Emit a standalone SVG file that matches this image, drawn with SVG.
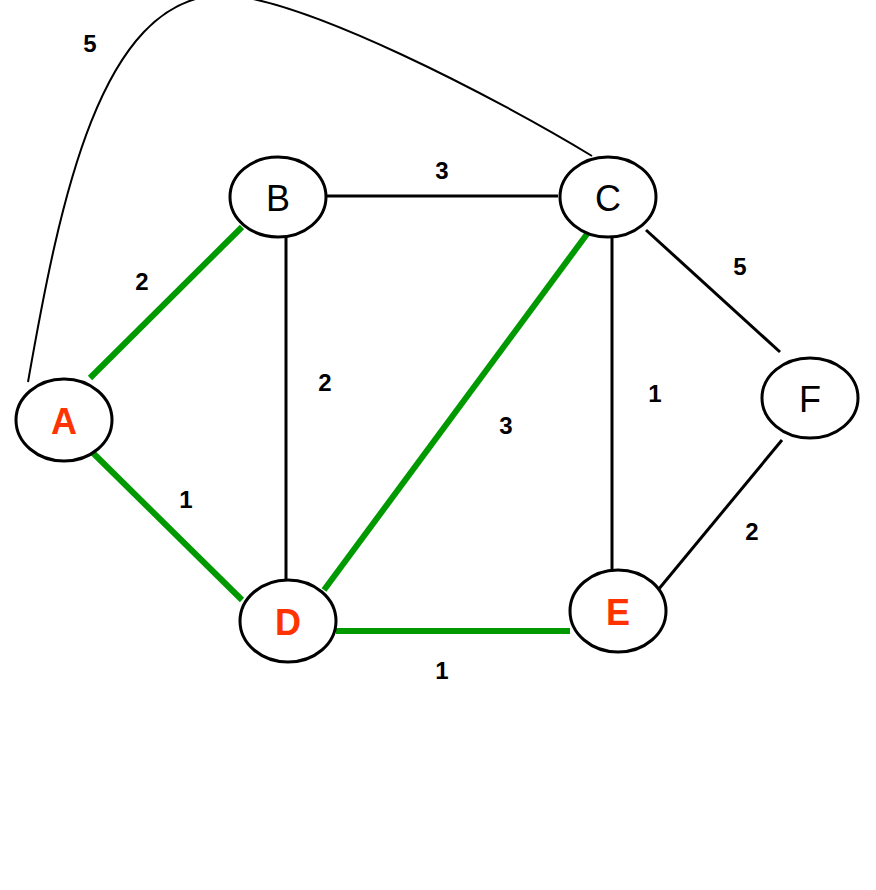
<svg xmlns="http://www.w3.org/2000/svg" width="876" height="890" viewBox="0 0 876 890">
<style>
.n{fill:#fff;stroke:#000;stroke-width:3}
.t{font-family:"Liberation Sans",Arial,sans-serif;font-size:36px;text-anchor:middle}
.r{fill:#ff3300;font-weight:bold}
.l{font-family:"Liberation Sans",Arial,sans-serif;font-size:24px;font-weight:bold;text-anchor:middle}
.k{stroke:#000;stroke-width:3;fill:none}
.g{stroke:#009900;stroke-width:6;fill:none}
</style>
<rect width="876" height="890" fill="#fff"/>
<g id="connectors">
<path class="k" d="M28,382 C60,200 100,0 220,-5 C300,-5 500,100 592,156" style="stroke-width:2"/>
<line class="g" x1="90" y1="378" x2="242" y2="227"/>
<line class="g" x1="92" y1="452" x2="242" y2="600"/>
<line class="k" x1="286" y1="237" x2="286" y2="580"/>
<line class="k" x1="326" y1="196" x2="558" y2="196"/>
<line class="g" x1="590" y1="230" x2="324" y2="590"/>
<line class="k" x1="612" y1="237" x2="612" y2="572"/>
<line class="k" x1="646" y1="230" x2="780" y2="352"/>
<line class="k" x1="782" y1="440" x2="658" y2="590"/>
<line class="g" x1="336" y1="631" x2="570" y2="631"/>
</g>
<g id="labels">
<text class="l" x="90" y="52">5</text>
<text class="l" x="442" y="179">3</text>
<text class="l" x="142" y="290">2</text>
<text class="l" x="740" y="275">5</text>
<text class="l" x="325" y="391">2</text>
<text class="l" x="655" y="402">1</text>
<text class="l" x="506" y="434">3</text>
<text class="l" x="186" y="508">1</text>
<text class="l" x="752" y="540">2</text>
<text class="l" x="442" y="679">1</text>
</g>
<g id="A"><ellipse class="n" cx="64" cy="420" rx="48" ry="41"/><text class="t r" x="64" y="434">A</text></g>
<g id="B"><ellipse class="n" cx="278" cy="197" rx="48" ry="40"/><text class="t" x="278" y="211">B</text></g>
<g id="C"><ellipse class="n" cx="608" cy="197" rx="48" ry="40"/><text class="t" x="608" y="211">C</text></g>
<g id="F"><ellipse class="n" cx="810" cy="398" rx="48" ry="40"/><text class="t" x="810" y="412">F</text></g>
<g id="D"><ellipse class="n" cx="288" cy="621" rx="48" ry="41"/><text class="t r" x="288" y="635">D</text></g>
<g id="E"><ellipse class="n" cx="618" cy="611" rx="48" ry="41"/><text class="t r" x="618" y="625">E</text></g>
</svg>
